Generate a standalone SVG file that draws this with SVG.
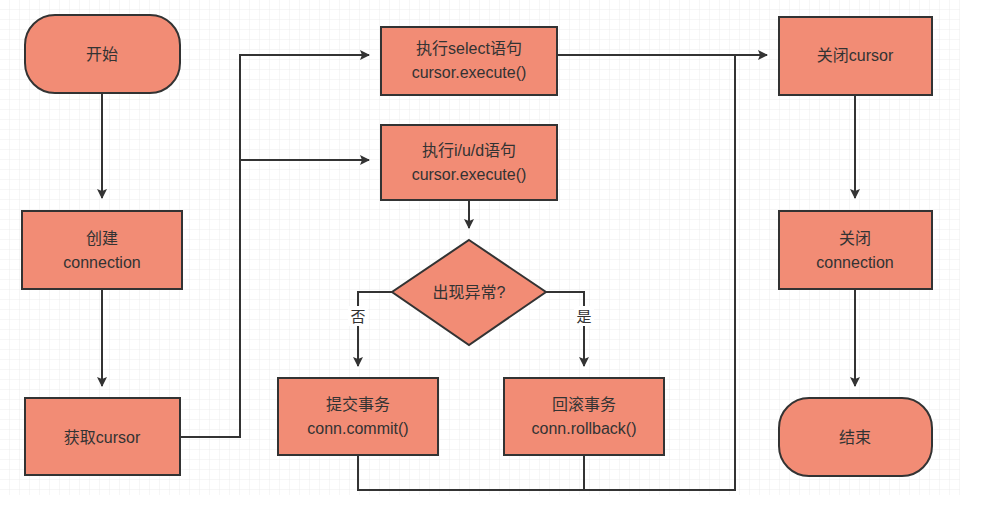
<svg xmlns="http://www.w3.org/2000/svg" width="985" height="510" viewBox="0 0 985 510">
<defs>
<pattern id="g" width="10" height="10" patternUnits="userSpaceOnUse"><path d="M10 0V10H0" fill="none" stroke="#ececec" stroke-width="1"/></pattern>
<marker id="a" markerWidth="10" markerHeight="10" refX="9" refY="5" orient="auto" markerUnits="userSpaceOnUse"><path d="M0 0L10 5L0 10L2 5Z" fill="#333"/></marker>
<style>
.n{fill:#f28c75;stroke:#333;stroke-width:2}
.t{font-family:"Liberation Sans","Noto Sans CJK SC",sans-serif;font-size:16px;fill:#333;text-anchor:middle}
.c{fill:none;stroke:#333;stroke-width:2}
.l{font-family:"Noto Sans CJK SC",sans-serif;font-size:15px;fill:#333;text-anchor:middle}
</style>
</defs>
<rect width="985" height="510" fill="#fff"/>
<rect x="0" y="0" width="960" height="495" fill="url(#g)"/>
<g id="connectors">
<path class="c" d="M102 93V198" marker-end="url(#a)"/>
<path class="c" d="M102 289V386" marker-end="url(#a)"/>
<path class="c" d="M180 437H240V55H369" marker-end="url(#a)"/>
<path class="c" d="M240 160H369" marker-end="url(#a)"/>
<path class="c" d="M557 55H767" marker-end="url(#a)"/>
<path class="c" d="M469 200V228" marker-end="url(#a)"/>
<path class="c" d="M392 292H358V366" marker-end="url(#a)"/>
<path class="c" d="M546 292H584V366" marker-end="url(#a)"/>
<path class="c" d="M358 455V490H735V55"/>
<path class="c" d="M584 455V490"/>
<path class="c" d="M855 95V198" marker-end="url(#a)"/>
<path class="c" d="M855 289V386" marker-end="url(#a)"/>
<rect x="348" y="306" width="20" height="20" fill="#fff"/>
<text class="l" x="358" y="322">否</text>
<rect x="574" y="306" width="20" height="20" fill="#fff"/>
<text class="l" x="584" y="322">是</text>
</g>
<g id="start"><rect class="n" x="25" y="15" width="155" height="78" rx="30"/><text class="t" x="102" y="60">开始</text></g>
<g id="conn"><rect class="n" x="22" y="211" width="160" height="78"/><text class="t" x="102" y="244">创建</text><text class="t" x="102" y="268">connection</text></g>
<g id="cursor"><rect class="n" x="25" y="398" width="155" height="77"/><text class="t" x="102" y="443">获取cursor</text></g>
<g id="select"><rect class="n" x="381" y="27" width="176" height="68"/><text class="t" x="469" y="54">执行select语句</text><text class="t" x="469" y="78">cursor.execute()</text></g>
<g id="iud"><rect class="n" x="381" y="125" width="176" height="75"/><text class="t" x="469" y="156">执行i/u/d语句</text><text class="t" x="469" y="180">cursor.execute()</text></g>
<g id="dec"><path class="n" d="M469 240L546 292L469 345L392 292Z"/><text class="t" x="469" y="298">出现异常?</text></g>
<g id="commit"><rect class="n" x="278" y="378" width="160" height="77"/><text class="t" x="358" y="410">提交事务</text><text class="t" x="358" y="434">conn.commit()</text></g>
<g id="rollback"><rect class="n" x="504" y="378" width="160" height="77"/><text class="t" x="584" y="410">回滚事务</text><text class="t" x="584" y="434">conn.rollback()</text></g>
<g id="closecur"><rect class="n" x="779" y="17" width="153" height="78"/><text class="t" x="855" y="61">关闭cursor</text></g>
<g id="closeconn"><rect class="n" x="779" y="211" width="153" height="78"/><text class="t" x="855" y="244">关闭</text><text class="t" x="855" y="268">connection</text></g>
<g id="end"><rect class="n" x="779" y="398" width="153" height="78" rx="30"/><text class="t" x="855" y="443">结束</text></g>
</svg>
